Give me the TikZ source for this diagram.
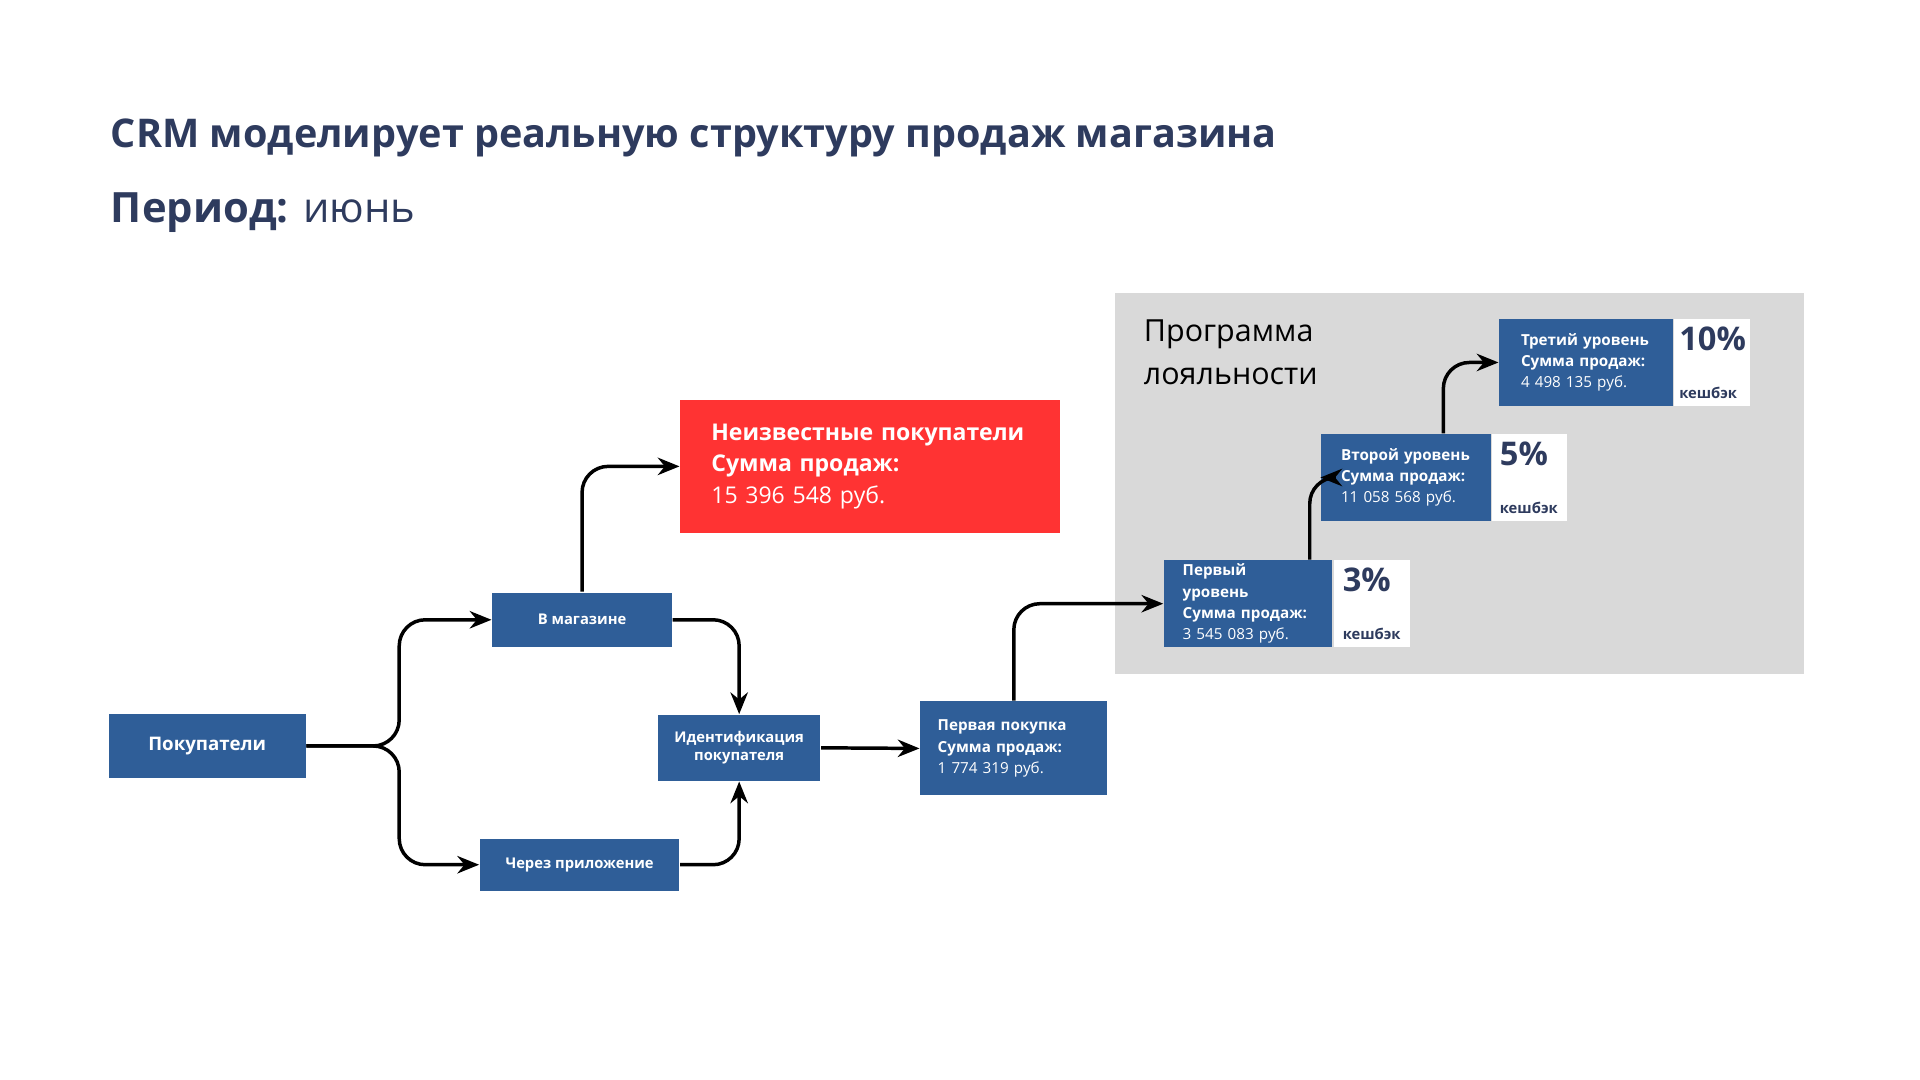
\documentclass[tikz,border=0pt]{standalone}
\usepackage{fontspec}
\setmainfont{Open Sans}
\usetikzlibrary{arrows.meta,positioning}
\definecolor{crmblue}{HTML}{2F5E98}
\definecolor{crmred}{HTML}{FF3333}
\definecolor{crmgray}{HTML}{D9D9D9}
\definecolor{crmdark}{HTML}{2E3B5E}
\tikzset{
  box/.style={fill=crmblue,text=white,font=\bfseries\fontsize{3.4}{4.2}\selectfont,inner sep=0pt,align=center},
  lvl/.style={fill=crmblue,text=white,font=\fontsize{3.5}{4.9}\selectfont,inner sep=0pt,align=left,minimum height=0.70cm},
  cash/.style={fill=white,text=crmdark,inner sep=0pt,align=left,minimum height=0.70cm,minimum width=0.61cm,anchor=west},
  arr/.style={-{Stealth[length=5pt,width=4pt]},line width=0.8pt,rounded corners=6pt},
}
\begin{document}
\begin{tikzpicture}
\useasboundingbox (0,0) rectangle (15.52,-8.73);
% titles
\node[anchor=base west,inner sep=0pt,text=crmdark,font=\bfseries\fontsize{9.1}{11}\selectfont] (title) at (0.89,-1.19) {CRM моделирует реальную структуру продаж магазина};
\node[anchor=base west,inner sep=0pt,text=crmdark,font=\fontsize{9.6}{11}\selectfont] (period) at (0.89,-1.80) {\textbf{Период:} июнь};
% loyalty area
\fill[crmgray] (9.01,-2.37) rectangle (14.58,-5.45);
\node[anchor=north west,inner sep=0pt,align=left,font=\fontsize{7}{9.8}\selectfont] (prog) at (9.24,-2.58) {Программа\\лояльности};
% nodes
\node[box,minimum width=1.59cm,minimum height=0.52cm,font=\bfseries\fontsize{4.3}{5}\selectfont] (buyers) at (1.675,-6.03) {Покупатели};
\node[box,minimum width=1.45cm,minimum height=0.44cm] (store) at (4.705,-5.01) {В магазине};
\node[box,minimum width=1.61cm,minimum height=0.42cm] (app) at (4.685,-6.99) {Через приложение};
\node[box,minimum width=1.31cm,minimum height=0.53cm] (ident) at (5.975,-6.045) {Идентификация\\покупателя};
\node[lvl,minimum width=1.51cm,minimum height=0.76cm,text width=1.23cm] (first) at (8.195,-6.05) {\textbf{Первая покупка}\\\textbf{Сумма продаж:}\\1 774 319 руб.};
\node[fill=crmred,text=white,inner sep=0pt,align=left,minimum width=3.07cm,minimum height=1.08cm,text width=2.57cm,font=\fontsize{5.3}{7.2}\selectfont] (unknown) at (7.035,-3.77) {\textbf{Неизвестные покупатели}\\\textbf{Сумма продаж:}\\15 396 548 руб.};
% levels
\node[lvl,minimum width=1.36cm,text width=1.06cm] (lev1) at (10.09,-4.88) {\textbf{Первый уровень}\\\textbf{Сумма продаж:}\\3 545 083 руб.};
\node[cash,text width=0.47cm] (cb1) at (lev1.east) {{\bfseries\fontsize{7.5}{8}\selectfont 3\%}\\[-1pt]{\bfseries\fontsize{3.4}{4}\selectfont кешбэк}};
\node[lvl,minimum width=1.37cm,text width=1.05cm] (lev2) at (11.365,-3.86) {\textbf{Второй уровень}\\\textbf{Сумма продаж:}\\11 058 568 руб.};
\node[cash,minimum width=0.60cm,text width=0.48cm] (cb2) at (lev2.east) {{\bfseries\fontsize{7.5}{8}\selectfont 5\%}\\[-1pt]{\bfseries\fontsize{3.4}{4}\selectfont кешбэк}};
\node[lvl,minimum width=1.40cm,text width=1.05cm] (lev3) at (12.82,-2.93) {\textbf{Третий уровень}\\\textbf{Сумма продаж:}\\4 498 135 руб.};
\node[cash,text width=0.53cm] (cb3) at (lev3.east) {{\bfseries\fontsize{7.5}{8}\selectfont 10\%}\\[-1pt]{\bfseries\fontsize{3.4}{4}\selectfont кешбэк}};
% connectors
\draw[arr] (buyers.east) -- ++(0.75,0) |- (store.west);
\draw[arr] (buyers.east) -- ++(0.75,0) |- (app.west);
\draw[arr] (store.east) -| (ident.north);
\draw[arr] (app.east) -| (ident.south);
\draw[arr] (store.north) |- (unknown.west);
\draw[arr] (ident.east) -- (first.west);
\draw[arr] (first.north) |- (lev1.west);
\draw[arr] ([xshift=-0.19cm]lev1.north east) |- (lev2.west);
\draw[arr] ([xshift=-0.39cm]lev2.north east) |- (lev3.west);
\end{tikzpicture}
\end{document}
